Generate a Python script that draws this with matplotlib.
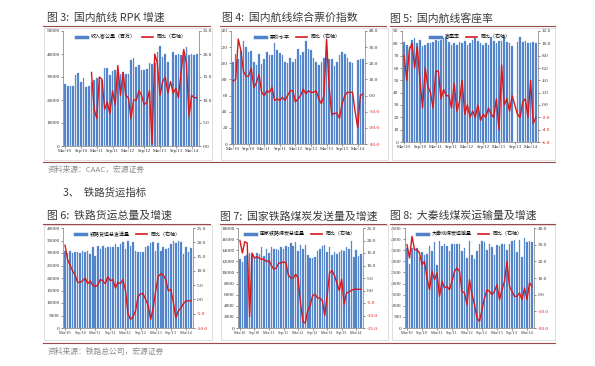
import numpy as np
import matplotlib
matplotlib.use("Agg")
import matplotlib.pyplot as plt
from matplotlib.lines import Line2D
from matplotlib.patches import Rectangle

plt.rcParams['font.family'] = ['Noto Sans CJK SC', 'DejaVu Sans']

# months Mar/10 .. May/14 (51 bars), labels every 6 months
months = ['Mar/10', 'Sep/10', 'Mar/11', 'Sep/11', 'Mar/12', 'Sep/12', 'Mar/13', 'Sep/13', 'Mar/14']
n = 51
nan = np.nan

# fig 3 - domestic RPK (million) and yoy
rpk = [27000, 26000, 26000, 26300, 31000, 31800, 27800, 29500, 25500, 26000,
       27800, 28500, 29700, 29500, 28600, 33800, 34000, 31000, 32500, 33200, 30500, 31500,
       32300, 31500, 31400, 37300, 38300, 34500, 35400, 33000, 33200, 33300, 36000, 35800,
       36000, 41000, 43500, 38500, 40000, 36500, 0, 41000, 39500, 40000, 39500, 39800,
       43000, 39500, 40000, 39500, 39800]
rpk_yoy = [nan] * 10 + [
       16, 8, 6, 15, 14.5, 8, 9.5, 7, 12, 9, 17.5, 11,
       16, 11, 10.5, 6, 10, 10, 12, 11, 9, 9.5, 12, 0.5,
       20, 18, 11, 14, 15, 11.5, 14, 11.5, 12.5, 10.5, 16, 21,
       18, 6.5, 11, 10.5, 10.5]

# fig 4 - fare index and yoy
fare = [102, 112, 105, 115, 128, 120, 114, 115, 101, 98,
        111, 99, 105, 114, 110, 110, 125, 116, 113, 110, 102, 100,
        106, 101, 105, 118, 110, 114, 128, 118, 116, 107, 102, 98,
        101, 107, 126, 105, 105, 97, 101, 110, 114, 112, 107, 102,
        100, 0, 104, 105, 105]
fare_yoy = [9, 10, 35, 28, 15, 12, 12, 17, 5, 8,
            13, 2, 0, 3, 2, 5, -3, -2, -3, -1, -3, 0,
            3, 3, -4, -2, 0, 4, 1, 3, 2, 2, 3, -2,
            -5, 0, 35, 5, -12, -11, -11, -14, -5, 0, 2, 2,
            2, -10, -20, 0, 1]

# fig 5 - load factor and yoy
lf = [81, 79, 77, 83, 84, 80, 83, 78, 79, 80,
      80, 81, 83, 82, 83, 84, 85, 81, 79, 80, 79, 81,
      80, 82, 79, 80, 83, 84, 82, 80, 79, 80, 79, 85,
      82, 80, 82, 82, 85, 81, 80, 78, 0, 81, 85, 81,
      82, 80, 80, 81, 80]
lf_yoy = [8, 4, 9, 10, 6, 9.5, 4, -0.5, 6, 3,
          2, -0.5, 5.5, 5.5, 1, 2.5, 1.5, 1.5, -0.5, 3.5, -1, 0.5,
          4, -1.5, 0, -2, -1, -2, 0, -2.5, -1.5, -2, -0.5, -1.5,
          -2, 1, -4, 6.5, 0, 1, -1, 1.5, 0, -1.5, -2, 0.5,
          1, -2, 4, -3, -2]

# fig 6 - rail freight total and yoy
freight = [31000, 30000, 31000, 30000, 30500, 30500, 30000, 31000, 30500, 31000,
           29500, 32500, 29000, 33000, 31500, 33000, 32000, 32500, 32500, 32500, 33500, 32500,
           33500, 34500, 31500, 35000, 33000, 34500, 31000, 30500, 30500, 30500, 32500, 33000,
           34000, 34500, 31000, 34000, 31000, 32500, 31500, 32000, 33500, 35000, 34000, 35000,
           34500, 29500, 32500, 30500, 32000]
freight_yoy = [19, 14, 12, 10, 8.5, 6, 6, 6.5, 7.5, 5.5,
               6.5, 5, 4.5, 5, 7, 6.5, 5.5, 8, 6.5, 7, 4, 6,
               5.5, 7, 3, -5, -7, -6, -4, 1, 2, 2, 0, -2,
               -7, -3, 3, 8, 9, 8.5, 7, 3, 3.5, -1, -6.5, -4,
               -3, -1.5, -0.5, -0.5, -0.5]

# fig 7 - national rail coal and yoy
coal = [12500, 11800, 13000, 13200, 13500, 13300, 12800, 13500, 13300, 14500,
        13000, 14200, 13500, 14500, 14200, 14300, 14000, 14500, 14300, 14800, 14500, 15300,
        14800, 15500, 13800, 15000, 14200, 15000, 13200, 12600, 12600, 12800, 13800, 14200,
        14800, 15000, 13600, 14500, 13200, 13600, 13300, 13700, 14000, 13800, 14500, 14300,
        15600, 12800, 14000, 13000, 13400]
coal_yoy = [20, 15, 19.5, 19, -10.5, 15, 13, 13.5, 13, 12.5,
            12.5, 11.5, 12, 10, 8.5, 9, 11, 11, 11.5, 11, 6, 5,
            5, 6.5, 5, -5, -12.5, -13, -8, -6, -2, -1.5, -3, -3,
            -4, -10, -2, 7, 8, 6, 3, 0, 4.5, -5.5, -1, -0.5,
            0, 0.5, 0.5, 0.5, 0.5]

# fig 8 - Daqin line coal and yoy
daqin = [3600, 2900, 3600, 3600, 3600, 3200, 3400, 3300, 3350, 3700,
         3450, 3850, 2850, 3900, 3700, 3800, 3700, 3450, 3800, 3800, 3800, 3800,
         3450, 3600, 3150, 3900, 3300, 3100, 3450, 3800, 3900, 3850, 3500, 3800,
         3650, 3300, 3750, 3700, 3800, 3800, 3500, 3800, 3900, 3950, 3400, 3950,
         3200, 4050, 3850, 3900, 3850]
daqin_yoy = [30, 22, 35, 27, 27, 25, 18, 20, 10, 3,
             14, 9, 13, -1, 8, 4, 5, 3, 8, 14, 16, 14,
             2, 1, -6, 9, 0, -6, -14, -16, -9, -2, 3, 2,
             0, 2, 6, -3, 3, 8, 20, 5, 2, -1, -1, 1,
             -3, 4, -3, 7, 5]

W, H = 595, 366
fig = plt.figure(figsize=(W / 100, H / 100), dpi=100)

BLUE = '#4F81C7'
RED = '#D7191C'
LINEC = '#9B4A48'
NUMF = 'Liberation Serif'


def px(x0, y0, x1, y1):
    return [x0 / W, 1 - y1 / H, (x1 - x0) / W, (y1 - y0) / H]


def panel(rect, frame, bars, yoy, llim, lstep, rlim, rstep, lab, xsize=3.4):
    fig.patches.append(Rectangle((frame[0] / W, 1 - frame[3] / H),
                                 (frame[2] - frame[0]) / W, (frame[3] - frame[1]) / H,
                                 transform=fig.transFigure, fill=False,
                                 ec='#d9d9d9', lw=0.6))
    ax = fig.add_axes(rect)
    x = np.arange(n)
    ax.bar(x, bars, width=0.62, color=BLUE, edgecolor='#6f9ad6', lw=0.2)
    ax.set_xlim(-0.8, n - 0.2)
    ax.set_ylim(*llim)
    lt = np.arange(llim[0], llim[1] + lstep / 2, lstep)
    ax.set_yticks(lt)
    ax.set_yticklabels(['{:.0f}'.format(v) for v in lt], family=NUMF, fontsize=3.8)
    ax.set_xticks(np.arange(0, n, 6))
    ax.set_xticklabels(months, family=NUMF, fontsize=xsize)
    ax2 = ax.twinx()
    ax2.plot(x, yoy, color=RED, lw=1.0)
    ax2.set_ylim(*rlim)
    rt = np.arange(rlim[0], rlim[1] + rstep / 2, rstep)
    ax2.set_yticks(rt)
    ax2.set_yticklabels(['{:.1f}'.format(v) for v in rt], family=NUMF, fontsize=3.8)
    for a in (ax, ax2):
        a.tick_params(length=1.5, width=0.4, pad=1, colors='#333333')
        for s in a.spines.values():
            s.set_linewidth(0.4)
            s.set_color('#8c8c8c')
        a.spines['top'].set_visible(False)
    for t, v in zip(ax2.get_yticklabels(), rt):
        if v < 0:
            t.set_color(RED)
    h = [Line2D([], [], color=BLUE, lw=2.5), Line2D([], [], color=RED, lw=1.2)]
    ax.legend(h, [lab, '同比（右轴）'], loc='upper center', ncol=2, frameon=False,
              fontsize=3.6, handlelength=2.2, columnspacing=1.2, borderaxespad=0.3,
              bbox_to_anchor=(0.5, 1.0))
    return ax


panel(px(63, 31, 199, 146), (44, 28, 212, 160), rpk, rpk_yoy,
      (0, 50000), 10000, (0, 25), 5, '收入客公里（百万）')
panel(px(231, 31, 365, 144), (221, 28, 388, 160), fare, fare_yoy,
      (0, 140), 20, (-30, 40), 10, '票价水平')
panel(px(402, 31, 538, 142), (392, 28, 555, 160), lf, lf_yoy,
      (0, 90), 10, (-6, 12), 2, '客座率')
panel(px(63, 228, 193, 328), (44, 225, 212, 340), freight, freight_yoy,
      (0, 40000), 5000, (-10, 25), 5, '铁路货运总发送量', 3.1)
panel(px(238, 228, 363, 328), (221, 225, 388, 340), coal, coal_yoy,
      (0, 18000), 2000, (-15, 25), 5, '国家铁路煤炭总运量', 3.0)
panel(px(405, 228, 534, 328), (392, 225, 555, 340), daqin, daqin_yoy,
      (0, 4500), 500, (-20, 40), 10, '大秦线煤炭运输量', 3.1)

# titles and rules
TC = '#3a3a3a'
titles = [(47, 18, '图 3:  国内航线 RPK 增速'), (222, 18, '图 4:  国内航线综合票价指数'),
          (390, 18, '图 5:  国内航线客座率'), (47, 216, '图 6:  铁路货运总量及增速'),
          (220, 216, '图 7:  国家铁路煤炭发送量及增速'), (390, 216, '图 8:  大秦线煤炭运输量及增速')]
for x0, y0, s in titles:
    fig.text(x0 / W, 1 - y0 / H, s, fontsize=7.8, color=TC, va='center', ha='left')

for y in (26, 224):
    for x0, x1 in ((43, 210), (220, 386), (390, 555)):
        fig.add_artist(Line2D([x0 / W, x1 / W], [1 - y / H] * 2, color=LINEC, lw=0.8))
for y in (162, 343):
    fig.add_artist(Line2D([43 / W, 555 / W], [1 - y / H] * 2, color=LINEC, lw=0.8))

fig.text(48 / W, 1 - 170 / H, '资料来源：CAAC，宏源证券', fontsize=5.6, color='#8a8a8a',
         style='italic', va='center')
fig.text(63 / W, 1 - 193 / H, '3、  铁路货运指标', fontsize=7.5, color=TC, va='center')
fig.text(48 / W, 1 - 352 / H, '资料来源：铁路总公司，宏源证券', fontsize=5.6, color='#8a8a8a',
         style='italic', va='center')

fig.savefig('out.png', dpi=100)
